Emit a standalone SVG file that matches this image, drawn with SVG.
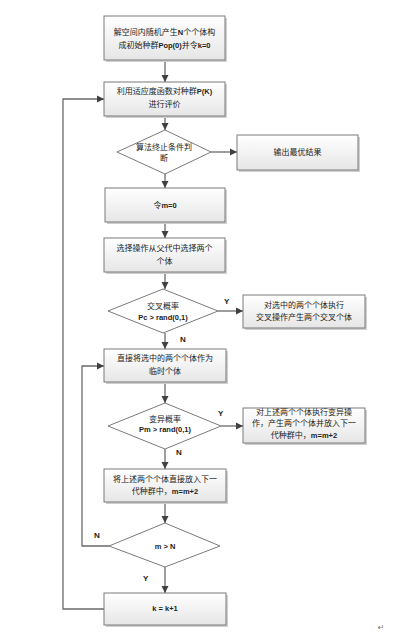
<svg xmlns="http://www.w3.org/2000/svg" width="401" height="634" viewBox="0 0 401 634">
<defs>
<linearGradient id="g" x1="0" y1="0" x2="0" y2="1"><stop offset="0" stop-color="#ffffff"/><stop offset="1" stop-color="#e6e6e6"/></linearGradient>
<marker id="a" markerWidth="8" markerHeight="8" refX="7" refY="4" orient="auto" markerUnits="userSpaceOnUse"><path d="M0,0.5 L7,4 L0,7.5 z" fill="#404040"/></marker>
<style>
.box{fill:url(#g);stroke:#7a7a7a;stroke-width:1}
.sh{fill:#cfcfcf}
.dia{fill:#ffffff;stroke:#7a7a7a;stroke-width:1}
.c{fill:none;stroke:#6a6a6a;stroke-width:1.3}
text{font-family:"Noto Sans CJK SC","Liberation Sans",sans-serif;font-size:8px;fill:#222;text-anchor:middle}
.b{font-family:"Liberation Sans",sans-serif;font-weight:bold;font-size:7.5px}
.lbl{font-family:"Liberation Sans",sans-serif;font-weight:bold;font-size:8px;text-anchor:start}
</style>
</defs>
<rect width="401" height="634" fill="#ffffff"/>
<g id="connectors">
<line class="c" x1="165" y1="60" x2="165" y2="82" marker-end="url(#a)"/>
<line class="c" x1="165" y1="116" x2="165" y2="130" marker-end="url(#a)"/>
<line class="c" x1="165" y1="174" x2="165" y2="188" marker-end="url(#a)"/>
<line class="c" x1="211" y1="152" x2="237" y2="152" marker-end="url(#a)"/>
<line class="c" x1="165" y1="222" x2="165" y2="238" marker-end="url(#a)"/>
<line class="c" x1="165" y1="272" x2="165" y2="289" marker-end="url(#a)"/>
<line class="c" x1="218" y1="311" x2="243" y2="311" marker-end="url(#a)"/>
<line class="c" x1="165" y1="333" x2="165" y2="349" marker-end="url(#a)"/>
<line class="c" x1="165" y1="382" x2="165" y2="403" marker-end="url(#a)"/>
<line class="c" x1="221" y1="426" x2="243" y2="426" marker-end="url(#a)"/>
<line class="c" x1="165" y1="449" x2="165" y2="469" marker-end="url(#a)"/>
<line class="c" x1="165" y1="502" x2="165" y2="523" marker-end="url(#a)"/>
<line class="c" x1="165" y1="567" x2="165" y2="593" marker-end="url(#a)"/>
<polyline class="c" points="109,546 82,546 82,366 104,366" marker-end="url(#a)"/>
<polyline class="c" points="104,609 63,609 63,99 104,99" marker-end="url(#a)"/>
<text class="lbl" x="224" y="304">Y</text>
<text class="lbl" x="180" y="342">N</text>
<text class="lbl" x="218" y="416">Y</text>
<text class="lbl" x="176" y="455">N</text>
<text class="lbl" x="94" y="538">N</text>
<text class="lbl" x="143" y="581">Y</text>
</g>
<g id="n1"><rect class="sh" x="106" y="18" width="121" height="44"/><rect class="box" x="104" y="16" width="121" height="44"/>
<text x="164.5" y="35">解空间内随机产生<tspan class="b">N</tspan>个个体构</text>
<text x="164.5" y="48">成初始种群<tspan class="b">Pop(0)</tspan>并令<tspan class="b">k=0</tspan></text></g>
<g id="n2"><rect class="sh" x="106" y="84" width="121" height="34"/><rect class="box" x="104" y="82" width="121" height="34"/>
<text x="164.5" y="94">利用适应度函数对种群<tspan class="b">P(K)</tspan></text>
<text x="164.5" y="107">进行评价</text></g>
<g id="d1"><polygon class="dia" points="165,130 211,152 165,174 117,152"/>
<text x="164" y="150">算法终止条件判</text><text x="164" y="161">断</text></g>
<g id="n3"><rect class="sh" x="239" y="137" width="121" height="35"/><rect class="box" x="237" y="135" width="121" height="35"/>
<text x="297.5" y="155">输出最优结果</text></g>
<g id="n4"><rect class="sh" x="107" y="190" width="120" height="34"/><rect class="box" x="105" y="188" width="120" height="34"/>
<text x="165" y="208">令<tspan class="b">m=0</tspan></text></g>
<g id="n5"><rect class="sh" x="106" y="240" width="121" height="34"/><rect class="box" x="104" y="238" width="121" height="34"/>
<text x="164.5" y="251">选择操作从父代中选择两个</text><text x="164.5" y="264">个体</text></g>
<g id="d2"><polygon class="dia" points="163,289 218,311 163,333 108,311"/>
<text x="163" y="309">交叉概率</text><text class="b" x="163" y="320">Pc &gt; rand(0,1)</text></g>
<g id="n6"><rect class="sh" x="245" y="297" width="122" height="33"/><rect class="box" x="243" y="295" width="122" height="33"/>
<text x="304" y="308">对选中的两个个体执行</text><text x="304" y="320">交叉操作产生两个交叉个体</text></g>
<g id="n7"><rect class="sh" x="106" y="351" width="122" height="33"/><rect class="box" x="104" y="349" width="122" height="33"/>
<text x="165" y="361">直接将选中的两个个体作为</text><text x="165" y="374">临时个体</text></g>
<g id="d3"><polygon class="dia" points="165,403 221,426 165,449 108,426"/>
<text x="165" y="422">变异概率</text><text class="b" x="165" y="432">Pm &gt; rand(0,1)</text></g>
<g id="n8"><rect class="sh" x="245" y="410" width="122" height="35"/><rect class="box" x="243" y="408" width="122" height="35"/>
<text x="304" y="415">对上述两个个体执行变异操</text><text x="304" y="426">作，产生两个个体并放入下一</text><text x="304" y="438">代种群中，<tspan class="b">m=m+2</tspan></text></g>
<g id="n9"><rect class="sh" x="106" y="471" width="122" height="33"/><rect class="box" x="104" y="469" width="122" height="33"/>
<text x="165" y="482">将上述两个个体直接放入下一</text><text x="165" y="494">代种群中，<tspan class="b">m=m+2</tspan></text></g>
<g id="d4"><polygon class="dia" points="165,523 220,546 165,567 109,546"/>
<text class="b" x="165" y="549">m &gt; N</text></g>
<g id="n10"><rect class="sh" x="106" y="595" width="122" height="32"/><rect class="box" x="104" y="593" width="122" height="32"/>
<text class="b" x="165" y="611">k = k+1</text></g>
<text x="381" y="630" style="font-family:'DejaVu Sans',sans-serif;font-size:8px;fill:#777">↵</text>
</svg>
